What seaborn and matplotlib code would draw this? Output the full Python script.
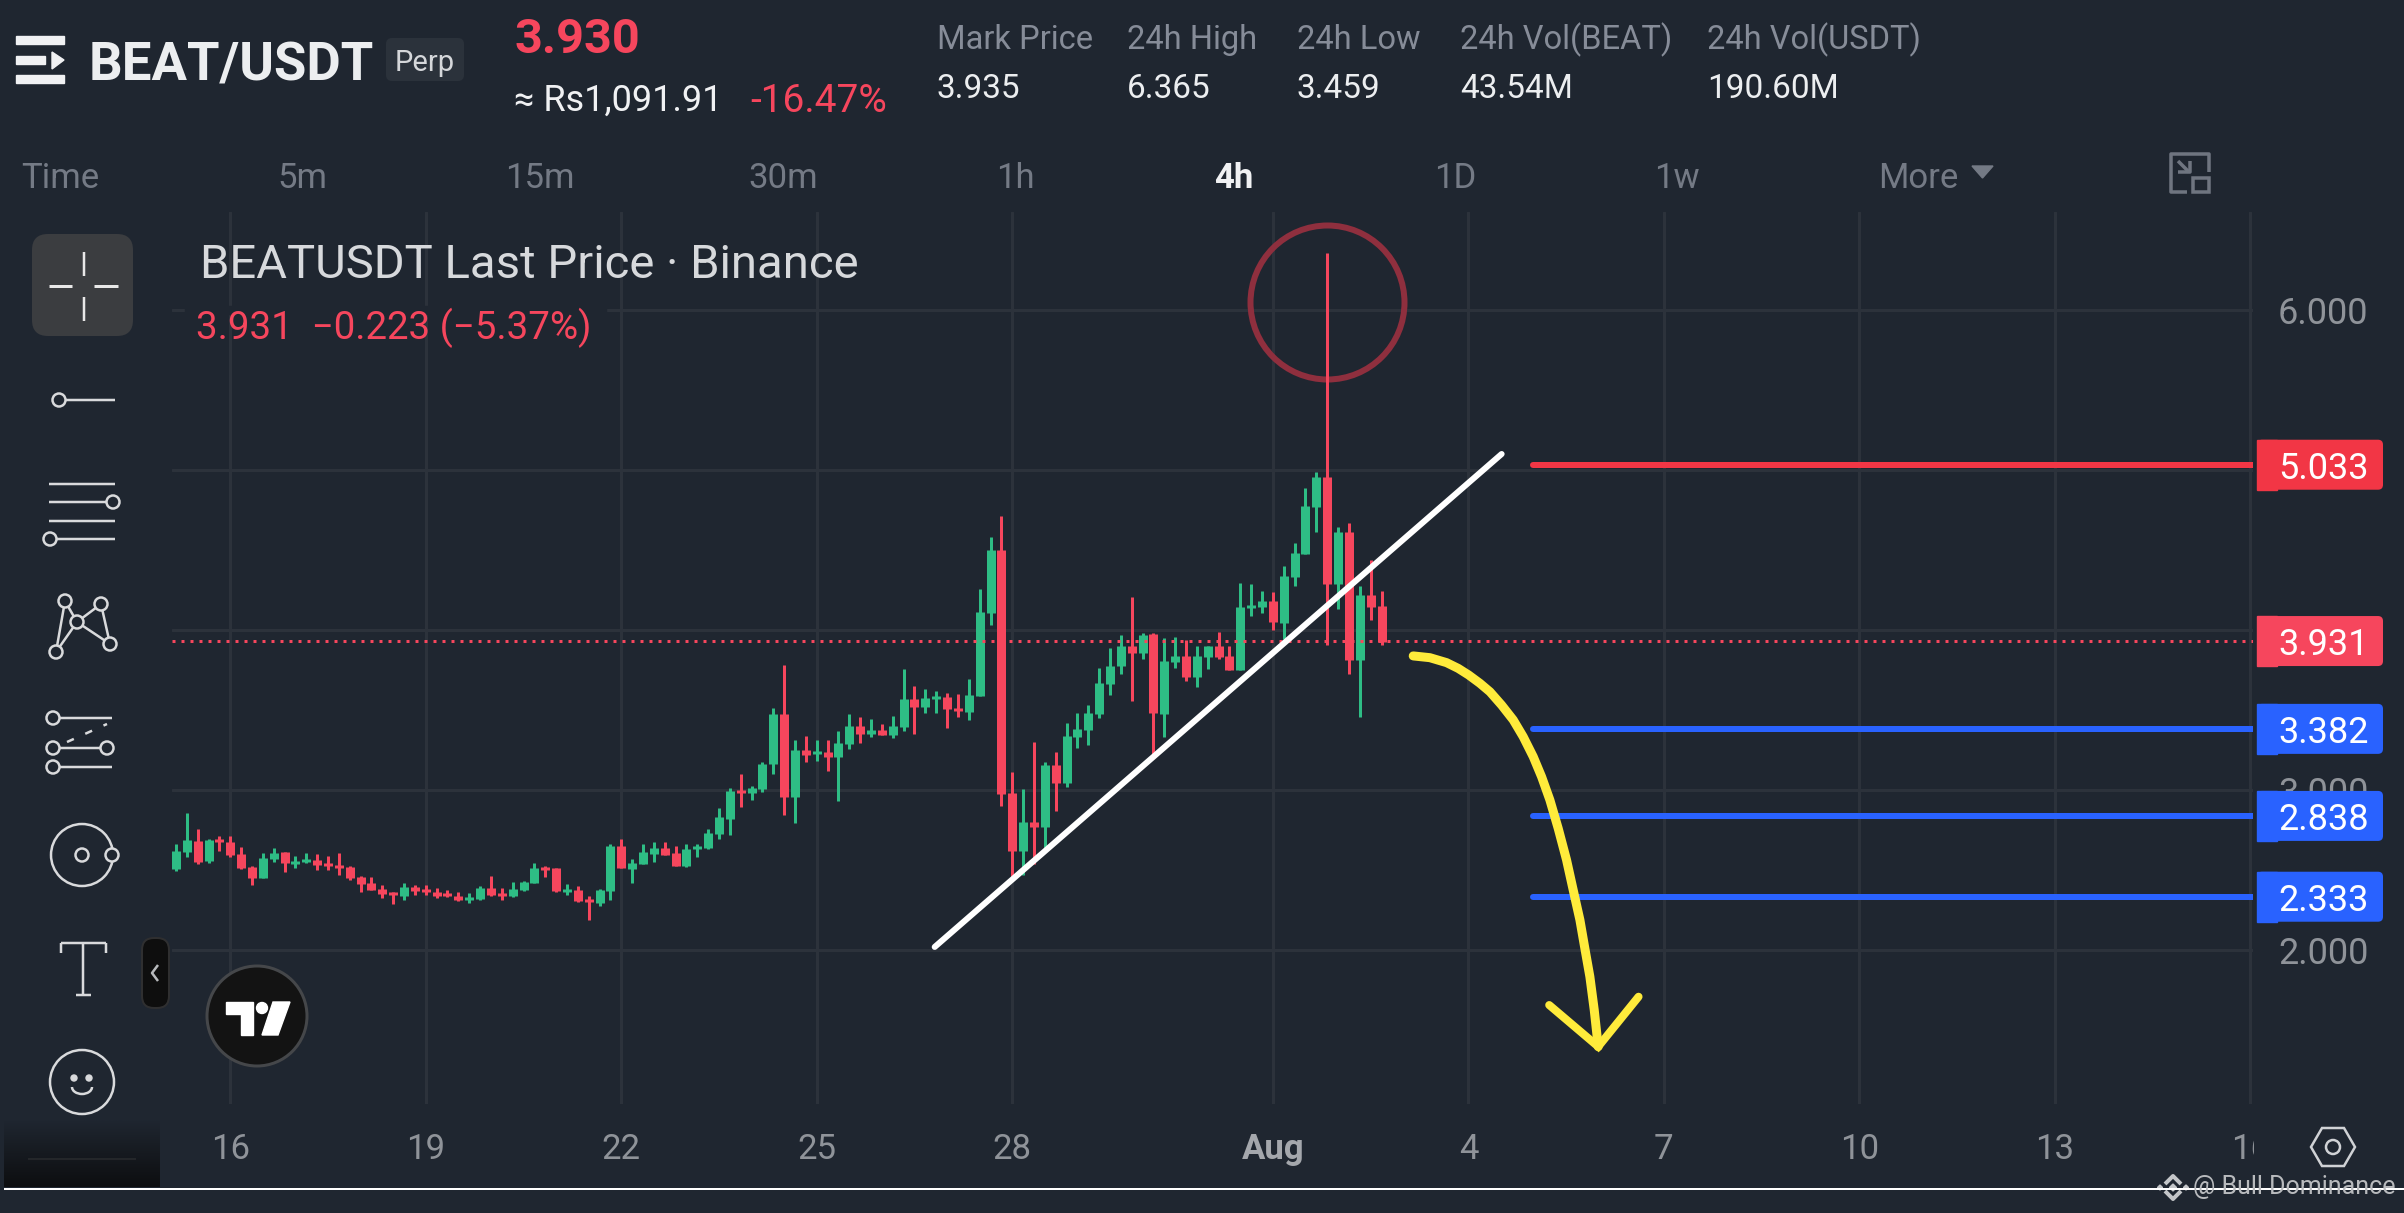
import numpy as np
import pandas as pd
import seaborn as sns
import matplotlib.pyplot as plt
import matplotlib.dates as mdates
from matplotlib.patches import Circle, FancyBboxPatch, Polygon, Rectangle, Arc
from matplotlib.transforms import Bbox

# 4h candles, first one is Jul 15 04:00
opens = [2.506, 2.613, 2.681, 2.556, 2.694, 2.675, 2.600, 2.519, 2.450, 2.569, 2.613, 2.538, 2.550, 2.563, 2.544, 2.531,
         2.519, 2.456, 2.419, 2.381, 2.363, 2.338, 2.394, 2.381, 2.363, 2.356, 2.338, 2.313, 2.319, 2.388, 2.356, 2.338,
         2.375, 2.419, 2.519, 2.513, 2.363, 2.375, 2.319, 2.294, 2.369, 2.650, 2.506, 2.538, 2.600, 2.638, 2.606, 2.525,
         2.631, 2.638, 2.725, 2.819, 3.000, 2.981, 3.006, 3.163, 3.475, 2.956, 3.250, 3.225, 3.238, 3.206, 3.288, 3.400,
         3.350, 3.375, 3.344, 3.394, 3.569, 3.519, 3.569, 3.581, 3.513, 3.488, 3.588, 4.106, 4.500, 2.981, 2.619, 2.800,
         2.769, 3.156, 3.044, 3.331, 3.375, 3.475, 3.663, 3.775, 3.900, 3.856, 3.975, 3.475, 3.800, 3.838, 3.706, 3.831,
         3.900, 3.838, 3.750, 4.138, 4.144, 4.181, 4.044, 4.331, 4.475, 4.769, 4.956, 4.288, 4.613, 3.813, 4.219, 4.150]
highs = [2.663, 2.856, 2.756, 2.694, 2.713, 2.713, 2.644, 2.525, 2.606, 2.638, 2.613, 2.588, 2.606, 2.600, 2.588, 2.606,
         2.525, 2.463, 2.456, 2.406, 2.363, 2.419, 2.406, 2.406, 2.388, 2.375, 2.363, 2.356, 2.400, 2.463, 2.388, 2.425,
         2.431, 2.544, 2.525, 2.513, 2.413, 2.400, 2.338, 2.381, 2.663, 2.694, 2.569, 2.663, 2.675, 2.675, 2.650, 2.663,
         2.663, 2.756, 2.888, 3.013, 3.100, 3.025, 3.175, 3.513, 3.781, 3.313, 3.338, 3.313, 3.313, 3.369, 3.475, 3.456,
         3.444, 3.413, 3.463, 3.756, 3.650, 3.631, 3.619, 3.606, 3.600, 3.694, 4.256, 4.581, 4.713, 3.113, 3.006, 3.300,
         3.175, 3.238, 3.419, 3.481, 3.531, 3.763, 3.888, 3.969, 4.206, 3.981, 3.981, 3.950, 3.956, 3.938, 3.900, 3.900,
         3.988, 3.900, 4.294, 4.288, 4.244, 4.238, 4.400, 4.544, 4.888, 4.988, 6.356, 4.644, 4.669, 4.275, 4.438, 4.244]
lows = [2.494, 2.581, 2.538, 2.544, 2.619, 2.581, 2.506, 2.406, 2.450, 2.550, 2.488, 2.513, 2.544, 2.500, 2.500, 2.469,
        2.438, 2.363, 2.375, 2.325, 2.288, 2.313, 2.344, 2.344, 2.325, 2.331, 2.306, 2.294, 2.313, 2.338, 2.313, 2.331,
        2.369, 2.419, 2.456, 2.363, 2.344, 2.300, 2.188, 2.275, 2.313, 2.513, 2.419, 2.538, 2.550, 2.594, 2.525, 2.519,
        2.581, 2.631, 2.694, 2.719, 2.894, 2.938, 2.988, 3.100, 2.844, 2.794, 3.175, 3.181, 3.119, 2.931, 3.256, 3.294,
        3.331, 3.344, 3.325, 3.369, 3.350, 3.481, 3.481, 3.388, 3.456, 3.438, 3.588, 4.031, 2.900, 2.438, 2.469, 2.538,
        2.635, 2.869, 3.019, 3.263, 3.281, 3.450, 3.594, 3.725, 3.556, 3.819, 3.219, 3.331, 3.763, 3.681, 3.644, 3.756,
        3.819, 3.750, 3.750, 4.088, 4.106, 4.000, 3.944, 4.275, 4.475, 4.613, 3.906, 4.131, 3.725, 3.456, 4.063, 3.906]
closes = [2.619, 2.688, 2.550, 2.688, 2.675, 2.594, 2.513, 2.450, 2.575, 2.606, 2.544, 2.556, 2.569, 2.531, 2.525, 2.513,
          2.450, 2.413, 2.375, 2.350, 2.344, 2.394, 2.369, 2.363, 2.338, 2.338, 2.313, 2.331, 2.388, 2.344, 2.338, 2.381,
          2.425, 2.513, 2.500, 2.369, 2.381, 2.306, 2.300, 2.375, 2.650, 2.513, 2.544, 2.613, 2.638, 2.594, 2.525, 2.631,
          2.650, 2.731, 2.831, 2.994, 2.981, 3.013, 3.163, 3.475, 2.956, 3.250, 3.219, 3.244, 3.206, 3.294, 3.400, 3.350,
          3.375, 3.344, 3.400, 3.569, 3.519, 3.575, 3.588, 3.506, 3.494, 3.594, 4.113, 4.500, 2.975, 2.619, 2.800, 2.769,
          3.156, 3.044, 3.338, 3.381, 3.481, 3.669, 3.775, 3.900, 3.856, 3.969, 3.481, 3.806, 3.838, 3.706, 3.838, 3.900,
          3.831, 3.750, 4.144, 4.156, 4.181, 4.050, 4.338, 4.481, 4.775, 4.956, 4.288, 4.613, 3.813, 4.219, 4.144, 3.925]

last_price = 3.931
resistance = 5.033
supports = [3.382, 2.838, 2.333]
y_ticks = [2, 3, 4, 5, 6]
y_tick_labels = ['2.000', '3.000', '', '', '6.000']  # 4 and 5 sit under the price tags
x_tick_dates = ['07-16', '07-19', '07-22', '07-25', '07-28', '08-01', '08-04', '08-07', '08-10', '08-13', '08-16']
x_tick_labels = ['16', '19', '22', '25', '28', 'Aug', '4', '7', '10', '13', '16']

# drawings on the chart, x is days after Aug 1
trend_days = [-5.19, 3.51]
trend_prices = [2.019, 5.100]
level_start_day = 3.99
arrow_days = [2.153, 2.409, 2.665, 2.844, 3.003, 3.176, 3.330, 3.509, 3.688, 3.841, 3.995, 4.123, 4.250, 4.378, 4.506,
              4.608, 4.711, 4.787, 4.864, 4.931, 4.992]
arrow_prices = [3.838, 3.827, 3.796, 3.760, 3.719, 3.667, 3.614, 3.531, 3.438, 3.333, 3.208, 3.083, 2.938, 2.760, 2.563,
                2.375, 2.188, 2.010, 1.833, 1.625, 1.396]
head_days = [4.240, 4.992, 5.611]
head_prices = [1.656, 1.396, 1.708]

BG = '#1f2630'
GRID = '#2c323b'
RED = '#f6465d'
GREEN = '#2ebd85'
LEVEL_RED = '#f23645'
BLUE = '#2962ff'
YELLOW = '#ffeb3b'
ICON = '#d9dadc'
MUTED = '#868c98'
PX = 0.72  # one pixel in points at dpi 100

sns.set_theme(style='darkgrid', rc={'figure.facecolor': BG, 'axes.facecolor': BG, 'grid.color': GRID,
                                    'axes.edgecolor': BG, 'savefig.facecolor': BG})
plt.rcParams['font.family'] = ['Roboto', 'DejaVu Sans']

W, H = 2404, 1213
fig = plt.figure(figsize=(W / 100, H / 100), dpi=100)

# chart area in pixels: x 172-2253, y 212-1104
ax = fig.add_axes([172 / W, 1 - 1104 / H, (2253 - 172) / W, (1104 - 212) / H])
year = '2025-'
aug1 = mdates.date2num(pd.Timestamp(year + '08-01'))
ax.set_xlim(aug1 - 16.894, aug1 + 15.04)
ax.set_ylim(1.0375, 6.6125)

df = pd.DataFrame({'time': pd.date_range(year + '07-15 04:00', periods=len(opens), freq='4h'),
                   'open': opens, 'high': highs, 'low': lows, 'close': closes})
df['x'] = mdates.date2num(df['time'])
df['color'] = np.where(df['close'] >= df['open'], GREEN, RED)

ax.vlines(df['x'], df['low'], df['high'], colors=df['color'], linewidth=3 * PX, zorder=3, capstyle='butt')
ax.vlines(df['x'], df[['open', 'close']].min(axis=1), df[['open', 'close']].max(axis=1),
          colors=df['color'], linewidth=9 * PX, zorder=3, capstyle='butt')

ax.axhline(last_price, color=RED, linewidth=3 * PX, linestyle=(0, (1, 2)), zorder=4)

# the circled wick
ax.plot([aug1 + 0.829], [6.05], marker='o', markersize=154 * PX, markerfacecolor='none',
        markeredgecolor='#8f2f3e', markeredgewidth=6 * PX, zorder=2)

sns.lineplot(x=aug1 + np.array(trend_days), y=trend_prices, color='white', linewidth=6 * PX, ax=ax, zorder=5,
             estimator=None, sort=False, solid_capstyle='round')
level_x = [aug1 + level_start_day, aug1 + 15.04]
sns.lineplot(x=level_x, y=[resistance, resistance], color=LEVEL_RED, linewidth=6 * PX, ax=ax, zorder=5,
             estimator=None, sort=False, solid_capstyle='round')
for level in supports:
    sns.lineplot(x=level_x, y=[level, level], color=BLUE, linewidth=6 * PX, ax=ax, zorder=5,
                 estimator=None, sort=False, solid_capstyle='round')
sns.lineplot(x=aug1 + np.array(arrow_days), y=arrow_prices, color=YELLOW, linewidth=9 * PX, ax=ax, zorder=6,
             estimator=None, sort=False, solid_capstyle='round', solid_joinstyle='round')
sns.lineplot(x=aug1 + np.array(head_days), y=head_prices, color=YELLOW, linewidth=8 * PX, ax=ax, zorder=6,
             estimator=None, sort=False, solid_capstyle='round', solid_joinstyle='miter')
ax.set_xlabel('')
ax.set_ylabel('')

ax.set_xticks(mdates.date2num(pd.to_datetime([year + d for d in x_tick_dates])), x_tick_labels)
ax.set_yticks(y_ticks, y_tick_labels)
ax.set_xlim(aug1 - 16.894, aug1 + 15.04)
ax.set_ylim(1.0375, 6.6125)
ax.grid(True, color=GRID, linewidth=3 * PX)
ax.set_axisbelow(True)
ax.yaxis.tick_right()
ax.tick_params(axis='x', length=0, pad=21, labelsize=25, colors='#8f9399')
ax.tick_params(axis='y', length=0, pad=18, labelsize=26, colors='#8f9399')
for s in ax.spines.values():
    s.set_visible(False)
xlabels = ax.get_xticklabels()
xlabels[5].set_color('#a4a7ac')
xlabels[5].set_fontweight('bold')
xlabels[-1].set_clip_on(True)
xlabels[-1].set_clip_box(Bbox([[0, 0], [2254, H]]))

# everything that belongs to the app screen goes on a pixel overlay
ov = fig.add_axes([0, 0, 1, 1], zorder=10)
ov.set_xlim(0, W)
ov.set_ylim(H, 0)
ov.axis('off')


def seg(xs, ys, lw=2.5, color=ICON, **kw):
    ov.plot(xs, ys, color=color, linewidth=lw * PX, solid_capstyle='butt', **kw)


def knob(x, y, r=6.5, lw=2.5):
    ov.add_patch(Circle((x, y), r, facecolor=BG, edgecolor=ICON, linewidth=lw * PX, zorder=5))


def label(x, y, s, size, color='#e8eaed', weight='normal', ha='left'):
    return ov.text(x, y + 3, s, fontsize=size, color=color, fontweight=weight, ha=ha, va='center')


def price_px(v):
    return 790 - (v - 3) * 160


# header
ov.add_patch(Rectangle((16, 36), 48, 8, color='#f0f1f3'))
ov.add_patch(Rectangle((16, 56), 29, 8, color='#f0f1f3'))
ov.add_patch(Polygon([(52, 52), (64, 60), (52, 69)], color='#f0f1f3'))
ov.add_patch(Rectangle((16, 75), 48, 8, color='#f0f1f3'))
label(89, 63, 'BEAT/USDT', 38, '#eceef0', 'bold')
ov.add_patch(FancyBboxPatch((390, 42), 70, 35, boxstyle='round,pad=4,rounding_size=6', facecolor='#2b323b', edgecolor='none'))
label(425, 60, 'Perp', 21, '#d5d7da', ha='center')
label(514, 37, '3.930', 35, RED, 'bold')
label(514, 98, '≈ Rs1,091.91', 26, '#f0f1f3')
label(750, 98, '-16.47%', 28, RED)
stat_x = [937, 1127, 1297, 1460, 1707]
stat_names = ['Mark Price', '24h High', '24h Low', '24h Vol(BEAT)', '24h Vol(USDT)']
stat_values = ['3.935', '6.365', '3.459', '43.54M', '190.60M']
for x, name, value in zip(stat_x, stat_names, stat_values):
    label(x, 37, name, 23.5, MUTED)
    label(x, 86, value, 24, '#eceef0')

# interval tabs
tab_x = [60, 302, 540, 783, 1015, 1234, 1455, 1677]
tab_names = ['Time', '5m', '15m', '30m', '1h', '4h', '1D', '1w']
for x, name in zip(tab_x, tab_names):
    if name == '4h':
        label(x, 175, name, 25, '#f0f1f3', 'bold', ha='center')
    else:
        label(x, 175, name, 25, '#747a85', ha='center')
label(1878, 175, 'More', 25, '#747a85')
ov.add_patch(Polygon([(1972, 166), (1993, 166), (1982.5, 178)], color='#747a85'))
ICON2 = '#6f7580'
seg([2209, 2209, 2171, 2171, 2187], [172, 154, 154, 192, 192], lw=3.5, color=ICON2)
ov.add_patch(Rectangle((2193, 178), 16, 14, facecolor='none', edgecolor=ICON2, linewidth=3.5 * PX))
seg([2178, 2189], [161, 172], lw=3.5, color=ICON2)
seg([2178, 2190, 2190], [172, 172, 161], lw=3.5, color=ICON2)

# chart legend
ov.add_patch(Rectangle((185, 306), 421, 8, color=BG))
label(200, 262, 'BEATUSDT Last Price · Binance', 34, '#d7d9dc')
label(196, 325, '3.931  −0.223 (−5.37%)', 27.7, RED)

# left toolbar
ov.add_patch(FancyBboxPatch((44, 246), 77, 78, boxstyle='round,pad=12,rounding_size=16', facecolor='#3b3d40', edgecolor='none'))
seg([83.5, 83.5], [252, 276], color='#e8e8e8')
seg([83.5, 83.5], [297, 321], color='#e8e8e8')
seg([49, 72], [286, 286], lw=3, color='#e8e8e8')
seg([94, 118], [286, 286], lw=3, color='#e8e8e8')

seg([59, 115], [400, 400])
knob(59, 400)

for yy in [484, 502, 521, 539]:
    seg([49, 115], [yy, yy])
knob(113, 502)
knob(50, 539)

nodes = {'a': (65, 601), 'b': (101, 604), 'c': (77, 622), 'd': (110, 644), 'e': (56, 652)}
for p, q in ['ae', 'ac', 'ce', 'cb', 'bd', 'dc']:
    seg([nodes[p][0], nodes[q][0]], [nodes[p][1], nodes[q][1]])
for x, y in nodes.values():
    knob(x, y)

for yy in [718, 748, 767]:
    seg([53, 112], [yy, yy])
ov.plot([67, 107], [742, 724], color=ICON, linewidth=2.5 * PX, linestyle=(0, (3, 5)))
knob(53, 718)
knob(53, 748)
knob(107, 748)
knob(53, 767)

ov.add_patch(Circle((82, 855), 31, facecolor='none', edgecolor=ICON, linewidth=2.5 * PX))
knob(82, 855)
knob(112, 855)

seg([61, 106], [943, 943])
seg([61, 61], [943, 953])
seg([106, 106], [943, 953])
seg([83, 83], [943, 995])
seg([76, 91], [995, 995])

ov.add_patch(Circle((82, 1082), 32, facecolor='none', edgecolor=ICON, linewidth=2.5 * PX))
ov.add_patch(Circle((74, 1078), 3, color=ICON))
ov.add_patch(Circle((89, 1078), 3, color=ICON))
ov.add_patch(Arc((82, 1087), 20, 14, theta1=0, theta2=180, edgecolor=ICON, linewidth=2.5 * PX))

# collapse handle and TradingView badge
ov.add_patch(FancyBboxPatch((149, 945), 13, 56, boxstyle='round,pad=7,rounding_size=12', facecolor='#0e0e0e', edgecolor='#2f2f30', linewidth=2 * PX))
seg([158, 152, 158], [965, 973, 981], lw=2.5, color='#b8babd')
ov.add_patch(Circle((257, 1016), 50, facecolor='#131313', edgecolor='#45474a', linewidth=3 * PX))
ov.add_patch(Polygon([(226, 1002), (253, 1002), (253, 1035), (241, 1035), (241, 1014), (226, 1014)], color='white'))
ov.add_patch(Circle((262, 1008), 5.5, color='white'))
ov.add_patch(Polygon([(273, 1002), (290, 1002), (278, 1035), (262, 1035)], color='white'))

# price tags
tags = [(resistance, LEVEL_RED), (last_price, RED)] + [(v, BLUE) for v in supports]
for v, c in tags:
    yy = price_px(v)
    ov.add_patch(FancyBboxPatch((2257, yy - 25), 126, 50, boxstyle='round,pad=0,rounding_size=5', facecolor=c, edgecolor='none'))
    ov.add_patch(Rectangle((2257, yy - 25), 20, 50, color=c))
    label(2278, yy + 1, '%.3f' % v, 26, 'white')

# bottom strip
grad = np.linspace(0, 1, 64).reshape(-1, 1)
ov.imshow(grad, extent=(4, 160, 1187, 1120), aspect='auto', zorder=1,
          cmap=sns.blend_palette([BG, '#0d0e10'], as_cmap=True))
ov.set_xlim(0, W)
ov.set_ylim(H, 0)
seg([28, 136], [1159, 1159], lw=1.5, color='#2a2c2f')
ov.add_patch(Polygon([(2311, 1147), (2322, 1128), (2344, 1128), (2355, 1147), (2344, 1166), (2322, 1166)],
                     facecolor='none', edgecolor='#d0d2d5', linewidth=2.5 * PX))
ov.add_patch(Circle((2333, 1147), 7, facecolor='none', edgecolor='#d0d2d5', linewidth=2.5 * PX))
# binance mark
seg([2165, 2173, 2181], [1184, 1176, 1184], lw=4, color='#c4c6c9')
seg([2165, 2173, 2181], [1191, 1199, 1191], lw=4, color='#c4c6c9')
for x, r in [(2173, 3.5), (2160, 2.5), (2186, 2.5)]:
    ov.add_patch(Polygon([(x - r, 1187.5), (x, 1187.5 - r), (x + r, 1187.5), (x, 1187.5 + r)], color='#c4c6c9'))
ov.text(2193, 1187, '@ Bull Dominance', fontsize=18, color='#b8babd', ha='left', va='center')
seg([4, W], [1189, 1189], lw=2, color='white')

fig.savefig('out.png', dpi=100)
